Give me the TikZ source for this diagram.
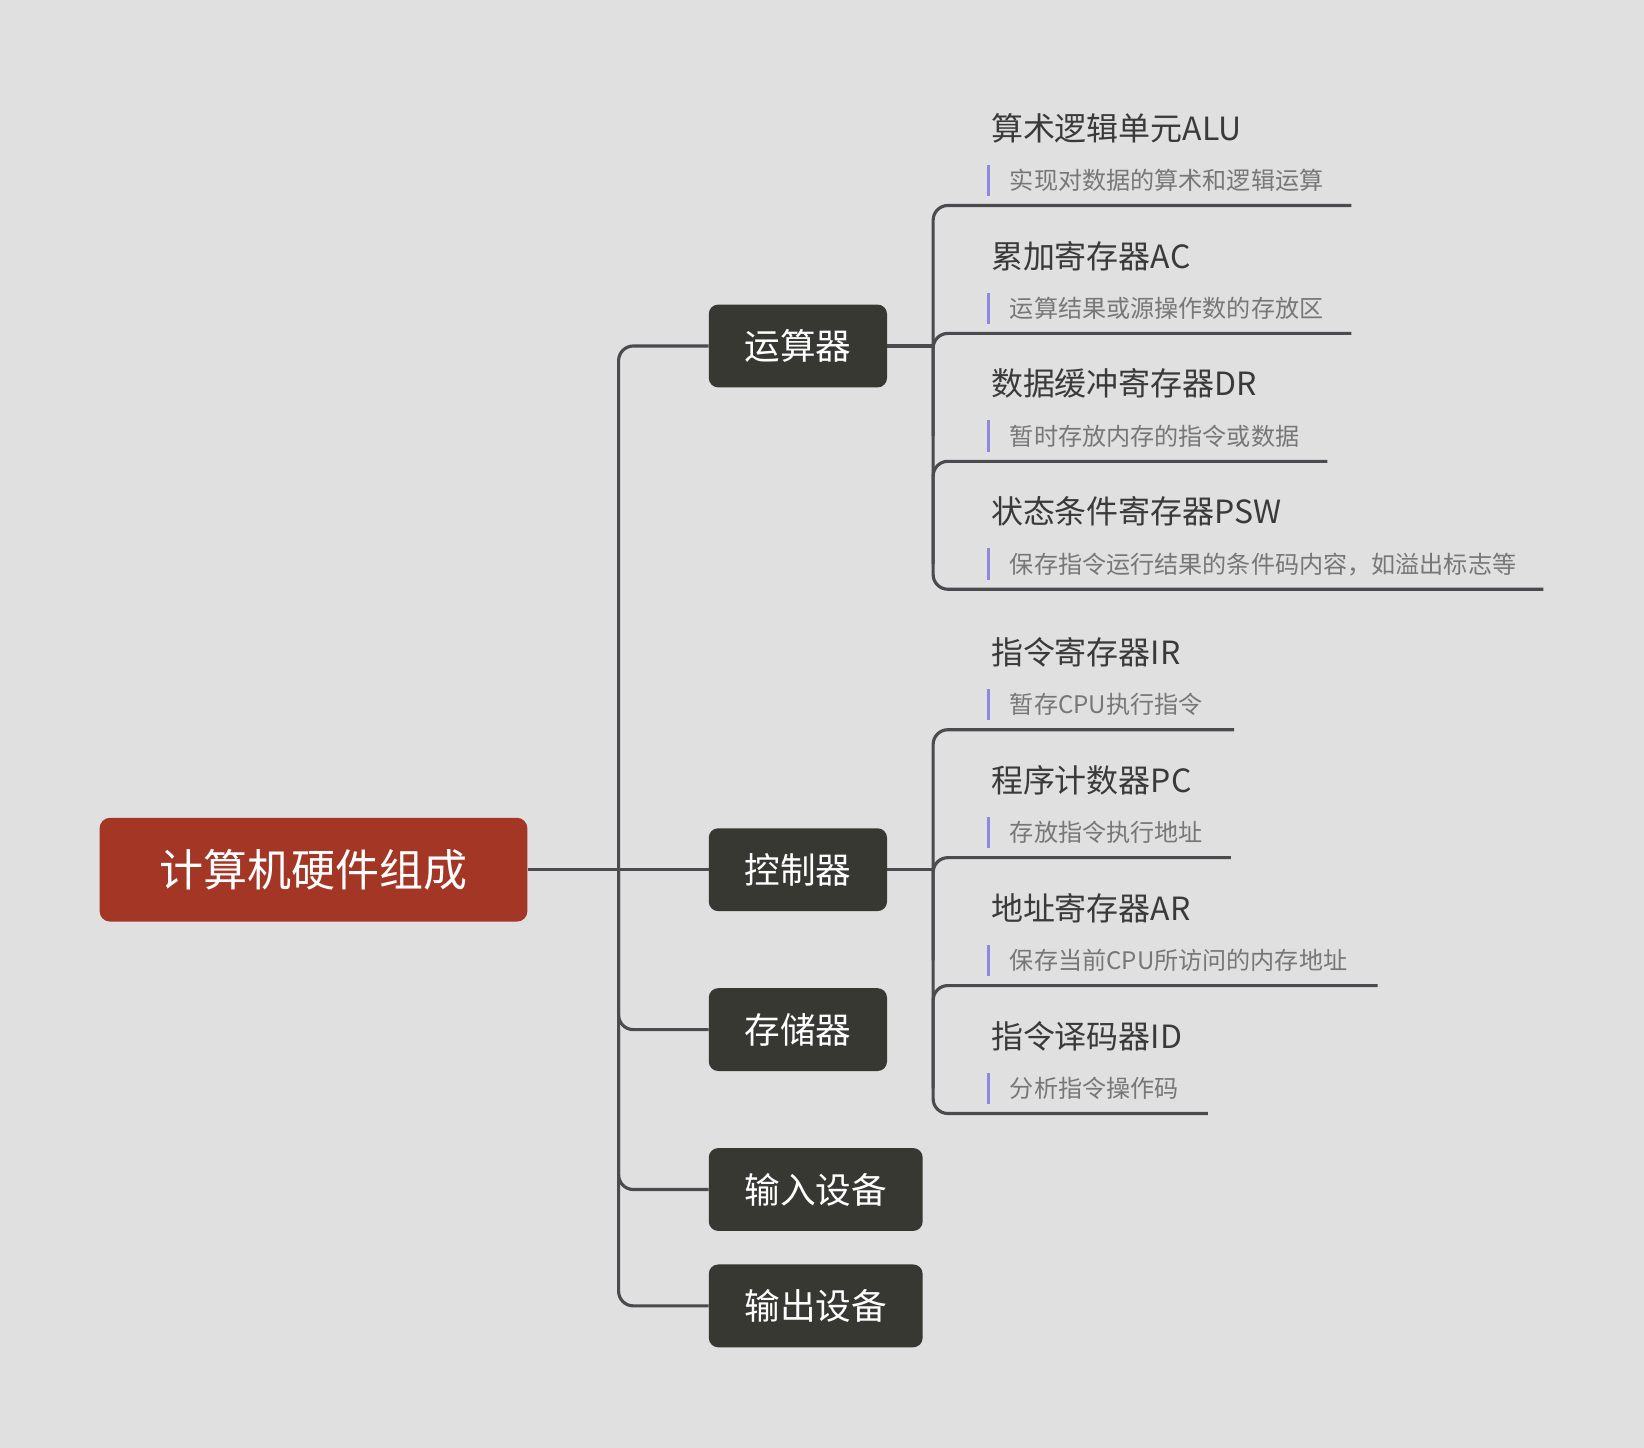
\documentclass[tikz,border=0pt]{standalone}
\usepackage{fontspec}
\setmainfont{Noto Sans CJK SC}
\definecolor{bg}{HTML}{E0E0E0}
\definecolor{rootred}{HTML}{A43626}
\definecolor{darkbox}{HTML}{383833}
\definecolor{linegray}{HTML}{4A4A4F}
\definecolor{titlegray}{HTML}{3A3A3A}
\definecolor{notegray}{HTML}{777777}
\definecolor{barblue}{HTML}{8B89E0}
\begin{document}
\begin{tikzpicture}[x=1pt,y=-1pt,
  rootbox/.style={fill=rootred, rounded corners=10pt, minimum width=408pt, minimum height=99pt, text=white, font=\fontsize{42}{50}\selectfont, inner sep=0pt},
  lvone/.style={fill=darkbox, rounded corners=9pt, minimum height=79pt, text=white, font=\fontsize{34}{40}\selectfont, inner sep=0pt},
  ttl/.style={anchor=west, inner sep=0pt, text=titlegray, font=\fontsize{30.5}{36}\selectfont},
  notetext/.style={anchor=west, inner sep=0pt, text=notegray, font=\fontsize{23}{28}\selectfont},
  barline/.style={draw=barblue, line width=3pt},
  conn/.style={draw=linegray, line width=3pt, rounded corners=14pt}]
\path[fill=bg] (0,0) rectangle (1568,1381);

% main nodes
\node[rootbox] (root) at (299,829.5) {计算机硬件组成};
\node[lvone, minimum width=170pt] (ysq) at (761,330) {运算器};
\node[lvone, minimum width=170pt] (kzq) at (761,829.5) {控制器};
\node[lvone, minimum width=170pt] (ccq) at (761,982) {存储器};
\node[lvone, minimum width=204pt] (srsb) at (778,1134.5) {输入设备};
\node[lvone, minimum width=204pt] (scsb) at (778,1245.5) {输出设备};

% children of 运算器
\node[ttl] (alu) at (945,122) {算术逻辑单元ALU};
\node[notetext] (alun) at (963,172) {实现对数据的算术和逻辑运算};
\node[ttl] (ac) at (945,244) {累加寄存器AC};
\node[notetext] (acn) at (963,294) {运算结果或源操作数的存放区};
\node[ttl] (dr) at (945,366) {数据缓冲寄存器DR};
\node[notetext] (drn) at (963,416) {暂时存放内存的指令或数据};
\node[ttl] (psw) at (945,488) {状态条件寄存器PSW};
\node[notetext] (pswn) at (963,538) {保存指令运行结果的条件码内容，如溢出标志等};

% children of 控制器
\node[ttl] (ir) at (945,622) {指令寄存器IR};
\node[notetext] (irn) at (963,672) {暂存CPU执行指令};
\node[ttl] (pc) at (945,744) {程序计数器PC};
\node[notetext] (pcn) at (963,794) {存放指令执行地址};
\node[ttl] (ar) at (945,866) {地址寄存器AR};
\node[notetext] (arn) at (963,916) {保存当前CPU所访问的内存地址};
\node[ttl] (id) at (945,988) {指令译码器ID};
\node[notetext] (idn) at (963,1038) {分析指令操作码};

% main trunk
\coordinate (tr) at (590,0);
\draw[conn] (ysq.west) -| (tr |- scsb.west) -- (scsb.west);
\draw[conn] (root.east) -- (kzq.west);
\draw[conn] (tr |- kzq.west) |- (ccq.west);
\draw[conn] (tr |- ccq.west) |- (srsb.west);

% sub trunks
\coordinate (sx) at (890,0);
\coordinate (u1) at (1289,196);
\coordinate (u2) at (1289,318);
\coordinate (u3) at (1266,440);
\coordinate (u4) at (1472,562);
\draw[conn] (ysq.east) -- (sx |- ysq.east);
\draw[conn] (u1) -| (sx |- u4) -- (u4);
\draw[conn] (sx |- drn.west) |- (u2);
\draw[conn] (sx |- pswn.west) |- (u3);

\coordinate (v1) at (1177,696);
\coordinate (v2) at (1174,818);
\coordinate (v3) at (1314,940);
\coordinate (v4) at (1152,1062);
\draw[conn] (kzq.east) -- (sx |- kzq.east);
\draw[conn] (v1) -| (sx |- v4) -- (v4);
\draw[conn] (sx |- arn.west) |- (v2);
\draw[conn] (sx |- idn.west) |- (v3);

\foreach \n in {alun,acn,drn,pswn,irn,pcn,arn,idn}{
  \draw[barline] ([shift={(-20,-15)}]\n.west) -- ([shift={(-20,15)}]\n.west);
}
\end{tikzpicture}
\end{document}
